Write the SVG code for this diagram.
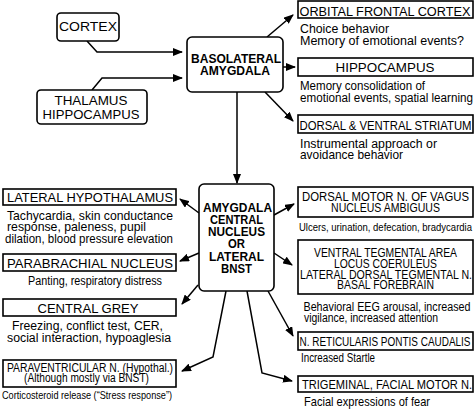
<svg xmlns="http://www.w3.org/2000/svg" width="474" height="410" viewBox="0 0 474 410">
<style>
.box{fill:#fff;stroke:#000;stroke-width:1.6}
.t{font-family:"Liberation Sans",Arial,sans-serif;fill:#000}
.bo{font-weight:bold}
.m{text-anchor:middle}
.c{fill:none;stroke:#000;stroke-width:1.5}
</style>
<defs>
<marker id="ah" markerUnits="userSpaceOnUse" markerWidth="10" markerHeight="8" refX="9" refY="4" orient="auto">
<path d="M0,0 L10,4 L0,8 z" fill="#000"/>
</marker>
</defs>
<rect width="474" height="410" fill="#fff"/>

<g id="connectors">
<path class="c" d="M87,41 L97,52 L182,52" marker-end="url(#ah)"/>
<path class="c" d="M92,90 L102,78 L182,78" marker-end="url(#ah)"/>
<path class="c" d="M267,37 L293,15" marker-end="url(#ah)"/>
<path class="c" d="M283,67 L295,67" marker-end="url(#ah)"/>
<path class="c" d="M265,92 L293,121" marker-end="url(#ah)"/>
<path class="c" d="M237,92 L237,183" marker-end="url(#ah)"/>
<path class="c" d="M199,213 L180,199" marker-end="url(#ah)"/>
<path class="c" d="M199,253 L180,261" marker-end="url(#ah)"/>
<path class="c" d="M198,285 L182,304" marker-end="url(#ah)"/>
<path class="c" d="M226,291 L213,357 L182,371" marker-end="url(#ah)"/>
<path class="c" d="M274,215 L294,204" marker-end="url(#ah)"/>
<path class="c" d="M274,253 L292,265" marker-end="url(#ah)"/>
<path class="c" d="M268,291 L293,336" marker-end="url(#ah)"/>
<path class="c" d="M247,291 L262,373 L292,381" marker-end="url(#ah)"/>
</g>

<g id="cortex">
<rect class="box" x="57" y="13" width="62" height="28" rx="4"/>
<text class="t m" x="88" y="31" font-size="13.5" textLength="58" lengthAdjust="spacingAndGlyphs">CORTEX</text>
</g>

<g id="thalamus">
<rect class="box" x="37" y="90" width="110" height="34" rx="4"/>
<text class="t m" x="91" y="105" font-size="13.4" textLength="73" lengthAdjust="spacingAndGlyphs">THALAMUS</text>
<text class="t m" x="91" y="119" font-size="13.1" textLength="97" lengthAdjust="spacingAndGlyphs">HIPPOCAMPUS</text>
</g>

<g id="basolateral">
<rect class="box" x="187" y="37" width="96" height="55" rx="5"/>
<text class="t bo m" transform="translate(236 63) scale(1 1.083)" font-size="12" textLength="90" lengthAdjust="spacingAndGlyphs">BASOLATERAL</text>
<text class="t bo m" transform="translate(235 75) scale(1 1.083)" font-size="12" textLength="70" lengthAdjust="spacingAndGlyphs">AMYGDALA</text>
</g>

<g id="central">
<rect class="box" x="199" y="184" width="75" height="107" rx="5"/>
<text class="t bo m" transform="translate(237.5 212) scale(1 1.13)" font-size="11.5" textLength="69" lengthAdjust="spacingAndGlyphs">AMYGDALA</text>
<text class="t bo m" transform="translate(236.5 224) scale(1 1.13)" font-size="11.5" textLength="53" lengthAdjust="spacingAndGlyphs">CENTRAL</text>
<text class="t bo m" transform="translate(236.5 236) scale(1 1.13)" font-size="11.5" textLength="57" lengthAdjust="spacingAndGlyphs">NUCLEUS</text>
<text class="t bo m" transform="translate(236.5 248) scale(1 1.13)" font-size="11.5" textLength="17" lengthAdjust="spacingAndGlyphs">OR</text>
<text class="t bo m" transform="translate(236.5 261) scale(1 1.13)" font-size="11.5" textLength="55" lengthAdjust="spacingAndGlyphs">LATERAL</text>
<text class="t bo m" transform="translate(236.5 273) scale(1 1.13)" font-size="11.5" textLength="31" lengthAdjust="spacingAndGlyphs">BNST</text>
</g>

<g id="orbital">
<rect class="box" x="298" y="1" width="175" height="17"/>
<text class="t" transform="translate(299.5 15.5) scale(1 1.08)" font-size="12.5" textLength="171" lengthAdjust="spacingAndGlyphs">ORBITAL FRONTAL CORTEX</text>
<text class="t" x="300" y="33" font-size="12.3" textLength="89" lengthAdjust="spacingAndGlyphs">Choice behavior</text>
<text class="t" x="300" y="44.5" font-size="12.5" textLength="164" lengthAdjust="spacingAndGlyphs">Memory of emotional events?</text>
</g>

<g id="hippocampus">
<rect class="box" x="298" y="58" width="175" height="18"/>
<text class="t m" x="385" y="72" font-size="13.4" textLength="99" lengthAdjust="spacingAndGlyphs">HIPPOCAMPUS</text>
<text class="t" transform="translate(300 90) scale(1 1.087)" font-size="11.5" textLength="125" lengthAdjust="spacingAndGlyphs">Memory consolidation of</text>
<text class="t" transform="translate(300 102) scale(1 1.078)" font-size="11.6" textLength="173" lengthAdjust="spacingAndGlyphs">emotional events, spatial learning</text>
</g>

<g id="striatum">
<rect class="box" x="298" y="115" width="175" height="18"/>
<text class="t" transform="translate(299.5 130) scale(1 1.2)" font-size="11.2" textLength="172" lengthAdjust="spacingAndGlyphs">DORSAL &amp; VENTRAL STRIATUM</text>
<text class="t" x="300" y="148" font-size="12.3" textLength="137" lengthAdjust="spacingAndGlyphs">Instrumental approach or</text>
<text class="t" transform="translate(300 159) scale(1 1.05)" font-size="11.9" textLength="103" lengthAdjust="spacingAndGlyphs">avoidance behavior</text>
</g>

<g id="lateral-hypothalamus">
<rect class="box" x="3" y="189" width="173" height="16"/>
<text class="t" transform="translate(7 202) scale(1 1.04)" font-size="12.8" textLength="166" lengthAdjust="spacingAndGlyphs">LATERAL HYPOTHALAMUS</text>
<text class="t" x="7" y="220" font-size="12.1" textLength="166" lengthAdjust="spacingAndGlyphs">Tachycardia, skin conductance</text>
<text class="t" x="7" y="231" font-size="12.2" textLength="139" lengthAdjust="spacingAndGlyphs">response, paleness, pupil</text>
<text class="t" transform="translate(5 243) scale(1 1.087)" font-size="11.5" textLength="168" lengthAdjust="spacingAndGlyphs">dilation, blood pressure elevation</text>
</g>

<g id="parabrachial">
<rect class="box" x="3" y="254" width="173" height="17"/>
<text class="t" x="7" y="268" font-size="13" textLength="166" lengthAdjust="spacingAndGlyphs">PARABRACHIAL NUCLEUS</text>
<text class="t" x="28" y="285" font-size="12.5" textLength="134" lengthAdjust="spacingAndGlyphs">Panting, respiratory distress</text>
</g>

<g id="central-grey">
<rect class="box" x="3" y="299" width="173" height="17"/>
<text class="t m" x="88" y="313" font-size="13" textLength="101" lengthAdjust="spacingAndGlyphs">CENTRAL GREY</text>
<text class="t" x="12" y="330" font-size="12.2" textLength="151" lengthAdjust="spacingAndGlyphs">Freezing, conflict test, CER,</text>
<text class="t" x="7" y="342" font-size="12.3" textLength="164" lengthAdjust="spacingAndGlyphs">social interaction, hypoaglesia</text>
</g>

<g id="paraventricular">
<rect class="box" x="3" y="360" width="173" height="27"/>
<text class="t" transform="translate(7 372) scale(1 1.18)" font-size="10.2" textLength="166" lengthAdjust="spacingAndGlyphs">PARAVENTRICULAR N. (Hypothal.)</text>
<text class="t" transform="translate(24 382) scale(1 1.18)" font-size="10.2" textLength="125" lengthAdjust="spacingAndGlyphs">(Although mostly via BNST)</text>
<text class="t" transform="translate(2 399) scale(1 1.2)" font-size="9.16" textLength="170" lengthAdjust="spacingAndGlyphs">Corticosteroid release (“Stress response”)</text>
</g>

<g id="dorsal-motor">
<rect class="box" x="298" y="187" width="175" height="30"/>
<text class="t m" transform="translate(385.5 201) scale(1 1.11)" font-size="11.25" textLength="167" lengthAdjust="spacingAndGlyphs">DORSAL MOTOR N. OF VAGUS</text>
<text class="t m" transform="translate(385.5 212) scale(1 1.19)" font-size="10.5" textLength="109" lengthAdjust="spacingAndGlyphs">NUCLEUS AMBIGUUS</text>
<text class="t" transform="translate(299 231) scale(1 1.16)" font-size="9.5" textLength="173" lengthAdjust="spacingAndGlyphs">Ulcers, urination, defecation, bradycardia</text>
</g>

<g id="vta">
<rect class="box" x="298" y="240" width="175" height="54"/>
<text class="t m" transform="translate(385.5 257) scale(1 1.2)" font-size="10.4" textLength="143" lengthAdjust="spacingAndGlyphs">VENTRAL TEGMENTAL AREA</text>
<text class="t m" transform="translate(385.5 268) scale(1 1.2)" font-size="10.4" textLength="103" lengthAdjust="spacingAndGlyphs">LOCUS COERULEUS</text>
<text class="t m" transform="translate(386 278.5) scale(1 1.2)" font-size="10.4" textLength="172" lengthAdjust="spacingAndGlyphs">LATERAL DORSAL TEGMENTAL N.</text>
<text class="t m" transform="translate(385.5 289) scale(1 1.2)" font-size="10.4" textLength="97" lengthAdjust="spacingAndGlyphs">BASAL FOREBRAIN</text>
<text class="t" transform="translate(303.5 311) scale(1 1.17)" font-size="10.7" textLength="167" lengthAdjust="spacingAndGlyphs">Behavioral EEG arousal, increased</text>
<text class="t" transform="translate(304 322) scale(1 1.2)" font-size="10.4" textLength="134" lengthAdjust="spacingAndGlyphs">vigilance, increased attention</text>
</g>

<g id="reticularis">
<rect class="box" x="298" y="332" width="175" height="18"/>
<text class="t" transform="translate(299.5 346) scale(1 1.26)" font-size="9.95" textLength="171" lengthAdjust="spacingAndGlyphs">N. RETICULARIS PONTIS CAUDALIS</text>
<text class="t" transform="translate(301 362) scale(1 1.27)" font-size="9.8" textLength="74" lengthAdjust="spacingAndGlyphs">Increased Startle</text>
</g>

<g id="trigeminal">
<rect class="box" x="298" y="376" width="175" height="16"/>
<text class="t" transform="translate(302 389) scale(1 1.18)" font-size="11" textLength="170" lengthAdjust="spacingAndGlyphs">TRIGEMINAL, FACIAL MOTOR N.</text>
<text class="t" transform="translate(304 406) scale(1 1.136)" font-size="11" textLength="126" lengthAdjust="spacingAndGlyphs">Facial expressions of fear</text>
</g>
</svg>
